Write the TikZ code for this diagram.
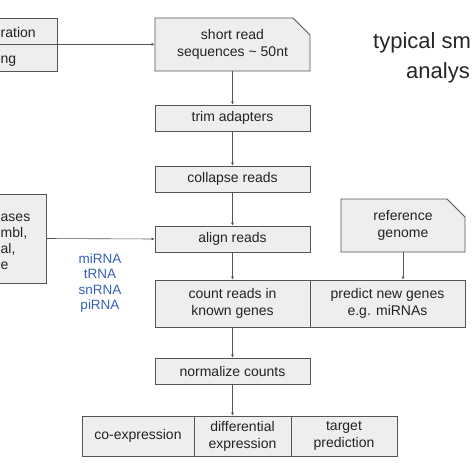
\documentclass[tikz,border=0pt]{standalone}
\usepackage{fontspec}
\setmainfont{Liberation Sans}
\usetikzlibrary{arrows.meta, shapes.misc}
\definecolor{boxgray}{RGB}{238, 238, 238}
\definecolor{linegray}{RGB}{85, 85, 85}
\definecolor{textgray}{RGB}{35, 35, 35}
\definecolor{rnablue}{RGB}{55, 95, 185}

\begin{document}
\begin{tikzpicture}[x=1pt, y=-1pt,
 box/.style={draw=linegray, fill=boxgray, line width=0.8pt, text=textgray, font=\fontsize{14}{17}\selectfont, align=center, inner sep=0pt},
 dogear/.style={box, chamfered rectangle, chamfered rectangle corners=north east},
 cut/.style={text=textgray, font=\fontsize{14}{16}\selectfont, anchor=base west, inner sep=0pt},
 heading/.style={font=\fontsize{22}{30}\selectfont, text=black!85, anchor=base west, inner sep=0pt},
 flow/.style={-{Latex[length=3pt, width=3pt]}, linegray, line width=0.6pt}]
 \useasboundingbox (0, 0) rectangle (474, 474);
 \clip (0, 0) rectangle (474, 474);
 % input boxes, cut off at the left edge
 \node[box, minimum width=170, minimum height=26] (libprep) at (-28, 31) {};
 \node[box, minimum width=170, minimum height=27] (seqng) at (-28, 57.5) {};
 \node[cut] (libtxt) at (0.5, 37) {ration};
 \node[cut] (seqtxt) at (0.5, 63) {ng};
 \node[dogear, minimum width=146, minimum height=89, chamfered rectangle xsep=13, chamfered rectangle ysep=14] (dbases) at (-27, 238.5) {};
 \node[cut] (dbtxt1) at (0.5, 221) {ases};
 \node[cut] (dbtxt2) at (0.5, 237) {mbl,};
 \node[cut] (dbtxt3) at (0.5, 253) {al,};
 \node[cut] (dbtxt4) at (0.5, 269) {e};
 \node[text=rnablue, font=\fontsize{13.5}{15.5}\selectfont, align=center] (rnatypes) at (100, 283) {miRNA\\tRNA\\snRNA\\piRNA};
 % main pipeline
 \node[dogear, minimum width=155, minimum height=53, chamfered rectangle xsep=9, chamfered rectangle ysep=8] (shortread) at (232.5, 44.5) {short read\\sequences \textasciitilde{} 50nt};
 \node[box, minimum width=155, minimum height=26] (trim) at (232.5, 118) {trim adapters};
 \node[box, minimum width=155, minimum height=26] (collapse) at (232.5, 179) {collapse reads};
 \node[box, minimum width=155, minimum height=26] (align) at (232.5, 239) {align reads};
 \node[box, minimum width=155, minimum height=47] (count) at (232.5, 303.5) {count reads in\\known genes};
 \node[box, minimum width=155, minimum height=47] (predict) at (387.5, 303.5) {predict new genes\\e.g. miRNAs};
 \node[dogear, minimum width=124, minimum height=53, chamfered rectangle xsep=10, chamfered rectangle ysep=8] (refgen) at (403, 225.5) {reference\\genome};
 \node[box, minimum width=155, minimum height=26] (normalize) at (232.5, 371) {normalize counts};
 \node[box, minimum width=112, minimum height=40] (coexpr) at (138, 436) {co-expression};
 \node[box, minimum width=97, minimum height=40] (diffexpr) at (242.5, 436) {differential\\expression};
 \node[box, minimum width=106, minimum height=40] (target) at (344, 436) {target\\prediction};
 % title, cut off at the right edge
 \node[heading] (title1) at (373, 48) {typical sm};
 \node[heading] (title2) at (406, 78) {analys};
 % arrows
 \draw[flow] (libprep.south east) -- (libprep.south east -| shortread.west);
 \draw[flow] (shortread.south) -- (trim.north);
 \draw[flow] (trim.south) -- (collapse.north);
 \draw[flow] (collapse.south) -- (align.north);
 \draw[flow] (dbases.east) -- (align.west);
 \draw[flow] (align.south) -- (count.north);
 \draw[flow] (refgen.south) -- (refgen.south |- predict.north);
 \draw[flow] (count.south) -- (normalize.north);
 \draw[flow] (normalize.south) -- (normalize.south |- diffexpr.north);
\end{tikzpicture}
\end{document}
